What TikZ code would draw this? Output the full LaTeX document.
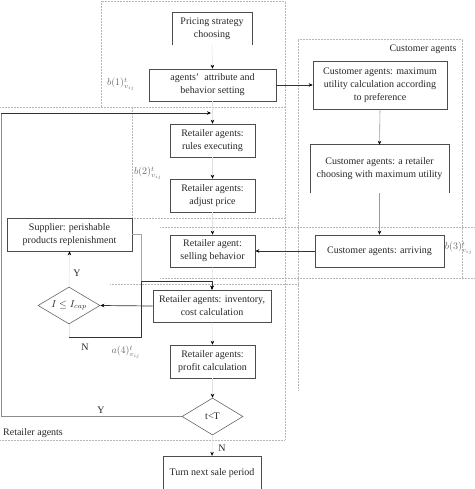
\documentclass[tikz,border=0pt]{standalone}
\usepackage{fontspec}
\setmainfont{Liberation Serif}
\usetikzlibrary{shapes.geometric,arrows.meta}
\begin{document}
\begin{tikzpicture}[x=1pt,y=-1pt,
  every node/.style={font=\fontsize{10}{13}\selectfont, text=black!85},
  box/.style={rectangle, draw=black!70, line width=0.6pt, inner sep=0pt, align=center},
  obox/.style={rectangle, inner sep=0pt, align=center},
  boxline/.style={draw=black!70, line width=0.6pt},
  dia/.style={diamond, draw=black!60, line width=0.6pt, inner sep=0pt, aspect=1.7},
  lbl/.style={font=\fontsize{10}{12}\selectfont, text=black!60, inner sep=1pt},
  tip/.style={-{Stealth[length=4pt,width=3.5pt,color=black]}},
  flow/.style={tip, draw=black!12, line width=0.5pt},
  flowgray/.style={tip, draw=black!40, line width=0.6pt},
  arrowblk/.style={tip, draw=black!80, line width=0.7pt},
  region/.style={draw=black!28, densely dotted, line width=0.5pt}]
\useasboundingbox (0,0) rectangle (474,489);

% dotted regions
\draw[region] (101,107) -- (101,1) -- (285,1) -- (285,440);
\draw[region] (0,107) -- (285,107);
\draw[region] (0,440) -- (285,440);
\draw[region] (132,107) -- (132,218) -- (285,218);
\draw[region] (298,390) -- (298,39) -- (462,39) -- (462,278);
\draw[region] (160,227) -- (474,227);
\draw[region] (160,278) -- (474,278);
\draw[region] (110,284) -- (298,284);

% boxes
\node[obox, minimum width=80, minimum height=32] (pricing) at (212,29) {Pricing strategy\\choosing};
\draw[boxline] (pricing.south west) -- (pricing.north west) -- (pricing.north east) -- (pricing.south east);
\node[box, minimum width=127, minimum height=32] (attr) at (212.5,85) {agents’\ \ attribute and\\behavior setting};
\node[box, minimum width=134, minimum height=48] (cmax) at (380,85) {Customer agents: maximum\\utility calculation according\\to preference};
\node[obox, minimum width=139, minimum height=48] (cchoose) at (379.5,169) {Customer agents: a retailer\\choosing with maximum utility};
\draw[boxline] (cchoose.south west) -- (cchoose.north west) -- (cchoose.north east) -- (cchoose.south east);
\node[box, minimum width=129, minimum height=32] (carrive) at (379.5,251) {Customer agents: arriving};
\node[box, minimum width=85, minimum height=33] (rules) at (212.5,140.5) {Retailer agents:\\rules executing};
\node[box, minimum width=85, minimum height=33] (adjust) at (212.5,195.5) {Retailer agents:\\adjust price};
\node[box, minimum width=85, minimum height=32] (selling) at (212.5,251) {Retailer agent:\\selling behavior};
\node[box, minimum width=125, minimum height=33] (supplier) at (69.5,234.5) {Supplier: perishable\\products replenishment};
\node[dia, minimum width=62, minimum height=37] (icap) at (69,305.5) {$I \leq I_{cap}$};
\node[box, minimum width=118, minimum height=32] (inv) at (212,306) {Retailer agents: inventory,\\cost calculation};
\node[box, minimum width=85, minimum height=33] (profit) at (212.5,361.5) {Retailer agents:\\profit calculation};
\node[dia, minimum width=61, minimum height=37] (tT) at (212.5,416.5) {t<T};
\node[obox, minimum width=98, minimum height=34] (turn) at (212,473) {Turn next sale period};
\draw[boxline] (turn.south west) -- (turn.north west) -- (turn.north east) -- (turn.south east);

% labels
\node[lbl] (b1) at (121,84) {$b(1)^t_{v_{ij}}$};
\node[lbl] (b2) at (148,173) {$b(2)^t_{v_{ij}}$};
\node[lbl, anchor=east] (b3) at (474,248) {$b(3)^t_{v_{ij}}$};
\node[lbl] (a4) at (126,352) {$a(4)^t_{v_{ij}}$};
\node (custlbl) at (423,49) {Customer agents};
\node (retlbl) at (33,433) {Retailer agents};
\node (y1) at (77,273) {Y};
\node (n1) at (85,347) {N};
\node (y2) at (101,410) {Y};
\node (n2) at (222,448) {N};

% connectors
\draw[flow] (pricing.south) -- (attr.north);
\draw[arrowblk] (attr.east) -- (cmax.west);
\draw[flowgray] (cmax.south) -- (cchoose.north);
\draw[flowgray] (cchoose.south) -- (carrive.north);
\draw[arrowblk] (carrive.west) -- (selling.east);
\draw[flow] (attr.south) -- (rules.north);
\draw[flow] (rules.south) -- (adjust.north);
\draw[flow] (adjust.south) -- (selling.north);
\draw[flow] (selling.south) -- (inv.north);
\draw[flow] (inv.south) -- (profit.north);
\draw[flow] (profit.south) -- (tT.north);
\draw[flow] (tT.south) -- (turn.north);
\draw[arrowblk] (inv.west) -- (icap.east);
\draw[flow] (icap.north) -- (supplier.south);

\coordinate (nstart) at (69,337);
\draw[draw=black!10, line width=0.5pt] (icap.south) -- (nstart);
\draw[arrowblk] (nstart) -| (141,281) -| (inv.north);
\draw[draw=black!35, line width=0.6pt] (supplier.east) -| (141,281);

\coordinate (loopcorner) at (1,113);
\coordinate (loopend) at (211,113);
\draw[draw=black!45, line width=0.8pt] (tT.west) -| (loopcorner);
\draw[arrowblk] (loopcorner) -- (loopend);
\end{tikzpicture}
\end{document}
